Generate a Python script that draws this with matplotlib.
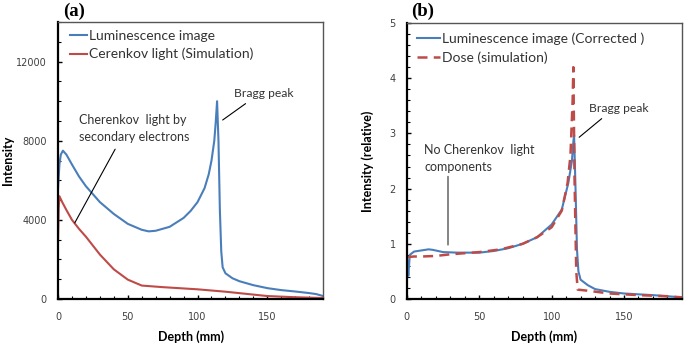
import matplotlib
matplotlib.use("Agg")
import matplotlib.pyplot as plt
from matplotlib.ticker import MultipleLocator

# ---- panel (a): raw luminescence vs simulated Cerenkov light ----
lum_depth = [0, 1, 2, 3.5, 6, 10, 15, 20, 25, 30, 40, 50, 60, 65, 70, 80, 90, 95,
             100, 105, 108, 110, 112, 113, 114, 115, 116, 117, 118, 120, 125, 130,
             140, 150, 160, 170, 180, 185, 190]
lum_int = [5600, 6800, 7300, 7500, 7300, 6800, 6200, 5700, 5300, 4900, 4300, 3800,
           3500, 3420, 3450, 3650, 4100, 4450, 4900, 5600, 6300, 7000, 8000, 8900,
           10000, 8000, 4500, 2400, 1600, 1300, 1050, 900, 700, 550, 450, 380, 300,
           250, 150]

cer_depth = [0, 0.5, 1, 3, 6, 10, 15, 20, 30, 40, 50, 60, 75, 100, 120, 135, 150,
             170, 190]
cer_int = [2900, 4600, 5200, 4900, 4500, 4000, 3550, 3150, 2250, 1500, 980, 680,
           600, 490, 370, 260, 150, 90, 50]

# ---- panel (b): corrected luminescence vs dose ----
cor_depth = [0, 0.5, 1, 2, 5, 10, 15, 18, 25, 35, 50, 60, 70, 80, 90, 100, 107,
             111.5, 114, 115, 115.5, 116.5, 117.5, 118.5, 120, 125, 130, 140, 150,
             170, 185, 190]
cor_int = [0.8, 0.6, 0.42, 0.8, 0.86, 0.88, 0.9, 0.89, 0.85, 0.84, 0.84, 0.87,
           0.92, 1.0, 1.12, 1.35, 1.62, 2.1, 2.5, 2.85, 2.97, 2.0, 0.9, 0.5, 0.35,
           0.25, 0.18, 0.13, 0.1, 0.07, 0.04, 0.02]

dose_depth = [0, 5, 10, 20, 30, 50, 65, 80, 90, 100, 107, 111, 113, 114.5, 115,
              115.8, 117, 118, 125, 140, 160, 180, 190]
dose_int = [0.76, 0.77, 0.77, 0.78, 0.81, 0.85, 0.9, 1.0, 1.12, 1.3, 1.6, 2.1,
            2.6, 3.6, 4.2, 2.2, 0.5, 0.17, 0.15, 0.1, 0.07, 0.05, 0.03]

BLUE = "#4a7ebb"
RED = "#be4b48"
TXT = "#333333"
plt.rcParams["font.family"] = ["Lato", "DejaVu Sans"]

fig = plt.figure(figsize=(6.85, 3.47), dpi=100)
ax1 = fig.add_axes([0.0847, 0.1383, 0.387, 0.798])
ax2 = fig.add_axes([0.594, 0.1383, 0.4015, 0.7954])


def style_axes(ax, ymajor, yminor):
    ax.xaxis.set_major_locator(MultipleLocator(50))
    ax.xaxis.set_minor_locator(MultipleLocator(10))
    ax.yaxis.set_major_locator(MultipleLocator(ymajor))
    ax.yaxis.set_minor_locator(MultipleLocator(yminor))
    ax.tick_params(which="both", direction="in", top=False, right=False,
                   labelsize=7, labelcolor="#404040", colors="black")
    ax.tick_params(which="major", length=3, width=1)
    ax.tick_params(which="minor", length=2, width=0.8)
    ax.tick_params(axis="x", which="major", pad=9)
    ax.tick_params(axis="y", which="major", pad=8)
    for side in ("left", "bottom"):
        ax.spines[side].set_linewidth(1.6)
        ax.spines[side].set_color("black")
    for side in ("top", "right"):
        ax.spines[side].set_linewidth(1.0)
        ax.spines[side].set_color("#555555")
    for lab in ax.get_xticklabels() + ax.get_yticklabels():
        lab.set_family("DejaVu Sans")
    ax.set_xlabel("Depth (mm)", fontsize=9, fontweight="bold")
    ax.xaxis.set_label_coords(0.5, -0.112)


# panel (a)
ax1.plot(lum_depth, lum_int, color=BLUE, lw=1.5, label="Luminescence image")
ax1.plot(cer_depth, cer_int, color=RED, lw=1.5, label="Cerenkov light (Simulation)")
ax1.set_xlim(0, 190)
ax1.set_ylim(0, 14000)
style_axes(ax1, 4000, 1000)
ax1.set_ylabel("Intensity", fontsize=9, fontweight="bold")
ax1.yaxis.set_label_coords(-0.165, 0.5)
ax1.legend(loc="upper left", bbox_to_anchor=(0.01, 1.008), frameon=False,
           fontsize=10, handlelength=1.2, handletextpad=0.15,
           borderaxespad=0.4, labelspacing=0.45, borderpad=0.3,
           labelcolor=TXT)
ax1.annotate("Bragg peak", xy=(118, 9050), xytext=(126, 10100), fontsize=8.7,
             color=TXT, ha="left", va="bottom",
             arrowprops=dict(arrowstyle="-", color="black", lw=0.8,
                             shrinkA=2, shrinkB=0, relpos=(0.3, 0)))
ax1.annotate("Cherenkov  light by\nsecondary electrons", xy=(12, 3850),
             xytext=(15, 7900), fontsize=9, color=TXT, ha="left",
             va="bottom", linespacing=1.5,
             arrowprops=dict(arrowstyle="-", color="black", lw=0.8,
                             shrinkA=3, shrinkB=0, relpos=(0.36, 0)))
fig.text(0.092, 0.968, "(a)", fontsize=13.5, fontweight="bold",
         family="Liberation Serif", va="center", ha="left")

# panel (b)
ax2.plot(cor_depth, cor_int, color=BLUE, lw=1.5,
         label="Luminescence image (Corrected )")
ax2.plot(dose_depth, dose_int, color=RED, lw=1.8, ls=(0, (4, 2.5)),
         label="Dose (simulation)")
ax2.set_xlim(0, 190)
ax2.set_ylim(0, 5)
style_axes(ax2, 1, 0.2)
ax2.set_ylabel("Intensity (relative)", fontsize=9, fontweight="bold")
ax2.yaxis.set_label_coords(-0.12, 0.5)
ax2.legend(loc="upper left", frameon=False, fontsize=10, handlelength=1.7,
           handletextpad=0.15, borderaxespad=0.4, labelspacing=0.45,
           borderpad=0.3, labelcolor=TXT)
ax2.annotate("Bragg peak", xy=(119, 2.93), xytext=(126, 3.35), fontsize=8.7,
             color=TXT, ha="left", va="bottom",
             arrowprops=dict(arrowstyle="-", color="black", lw=0.8,
                             shrinkA=2, shrinkB=0, relpos=(0.3, 0)))
ax2.text(12, 2.28, "No Cherenkov  light\ncomponents", fontsize=9, color=TXT,
         ha="left", va="bottom", linespacing=1.5)
ax2.annotate("", xy=(28.4, 0.98), xytext=(28.4, 2.22),
             arrowprops=dict(arrowstyle="-", color="#555555", lw=1.0,
                             shrinkA=0, shrinkB=0))
fig.text(0.6, 0.968, "(b)", fontsize=13.5, fontweight="bold",
         family="Liberation Serif", va="center", ha="left")

fig.savefig("out.png", dpi=100)
